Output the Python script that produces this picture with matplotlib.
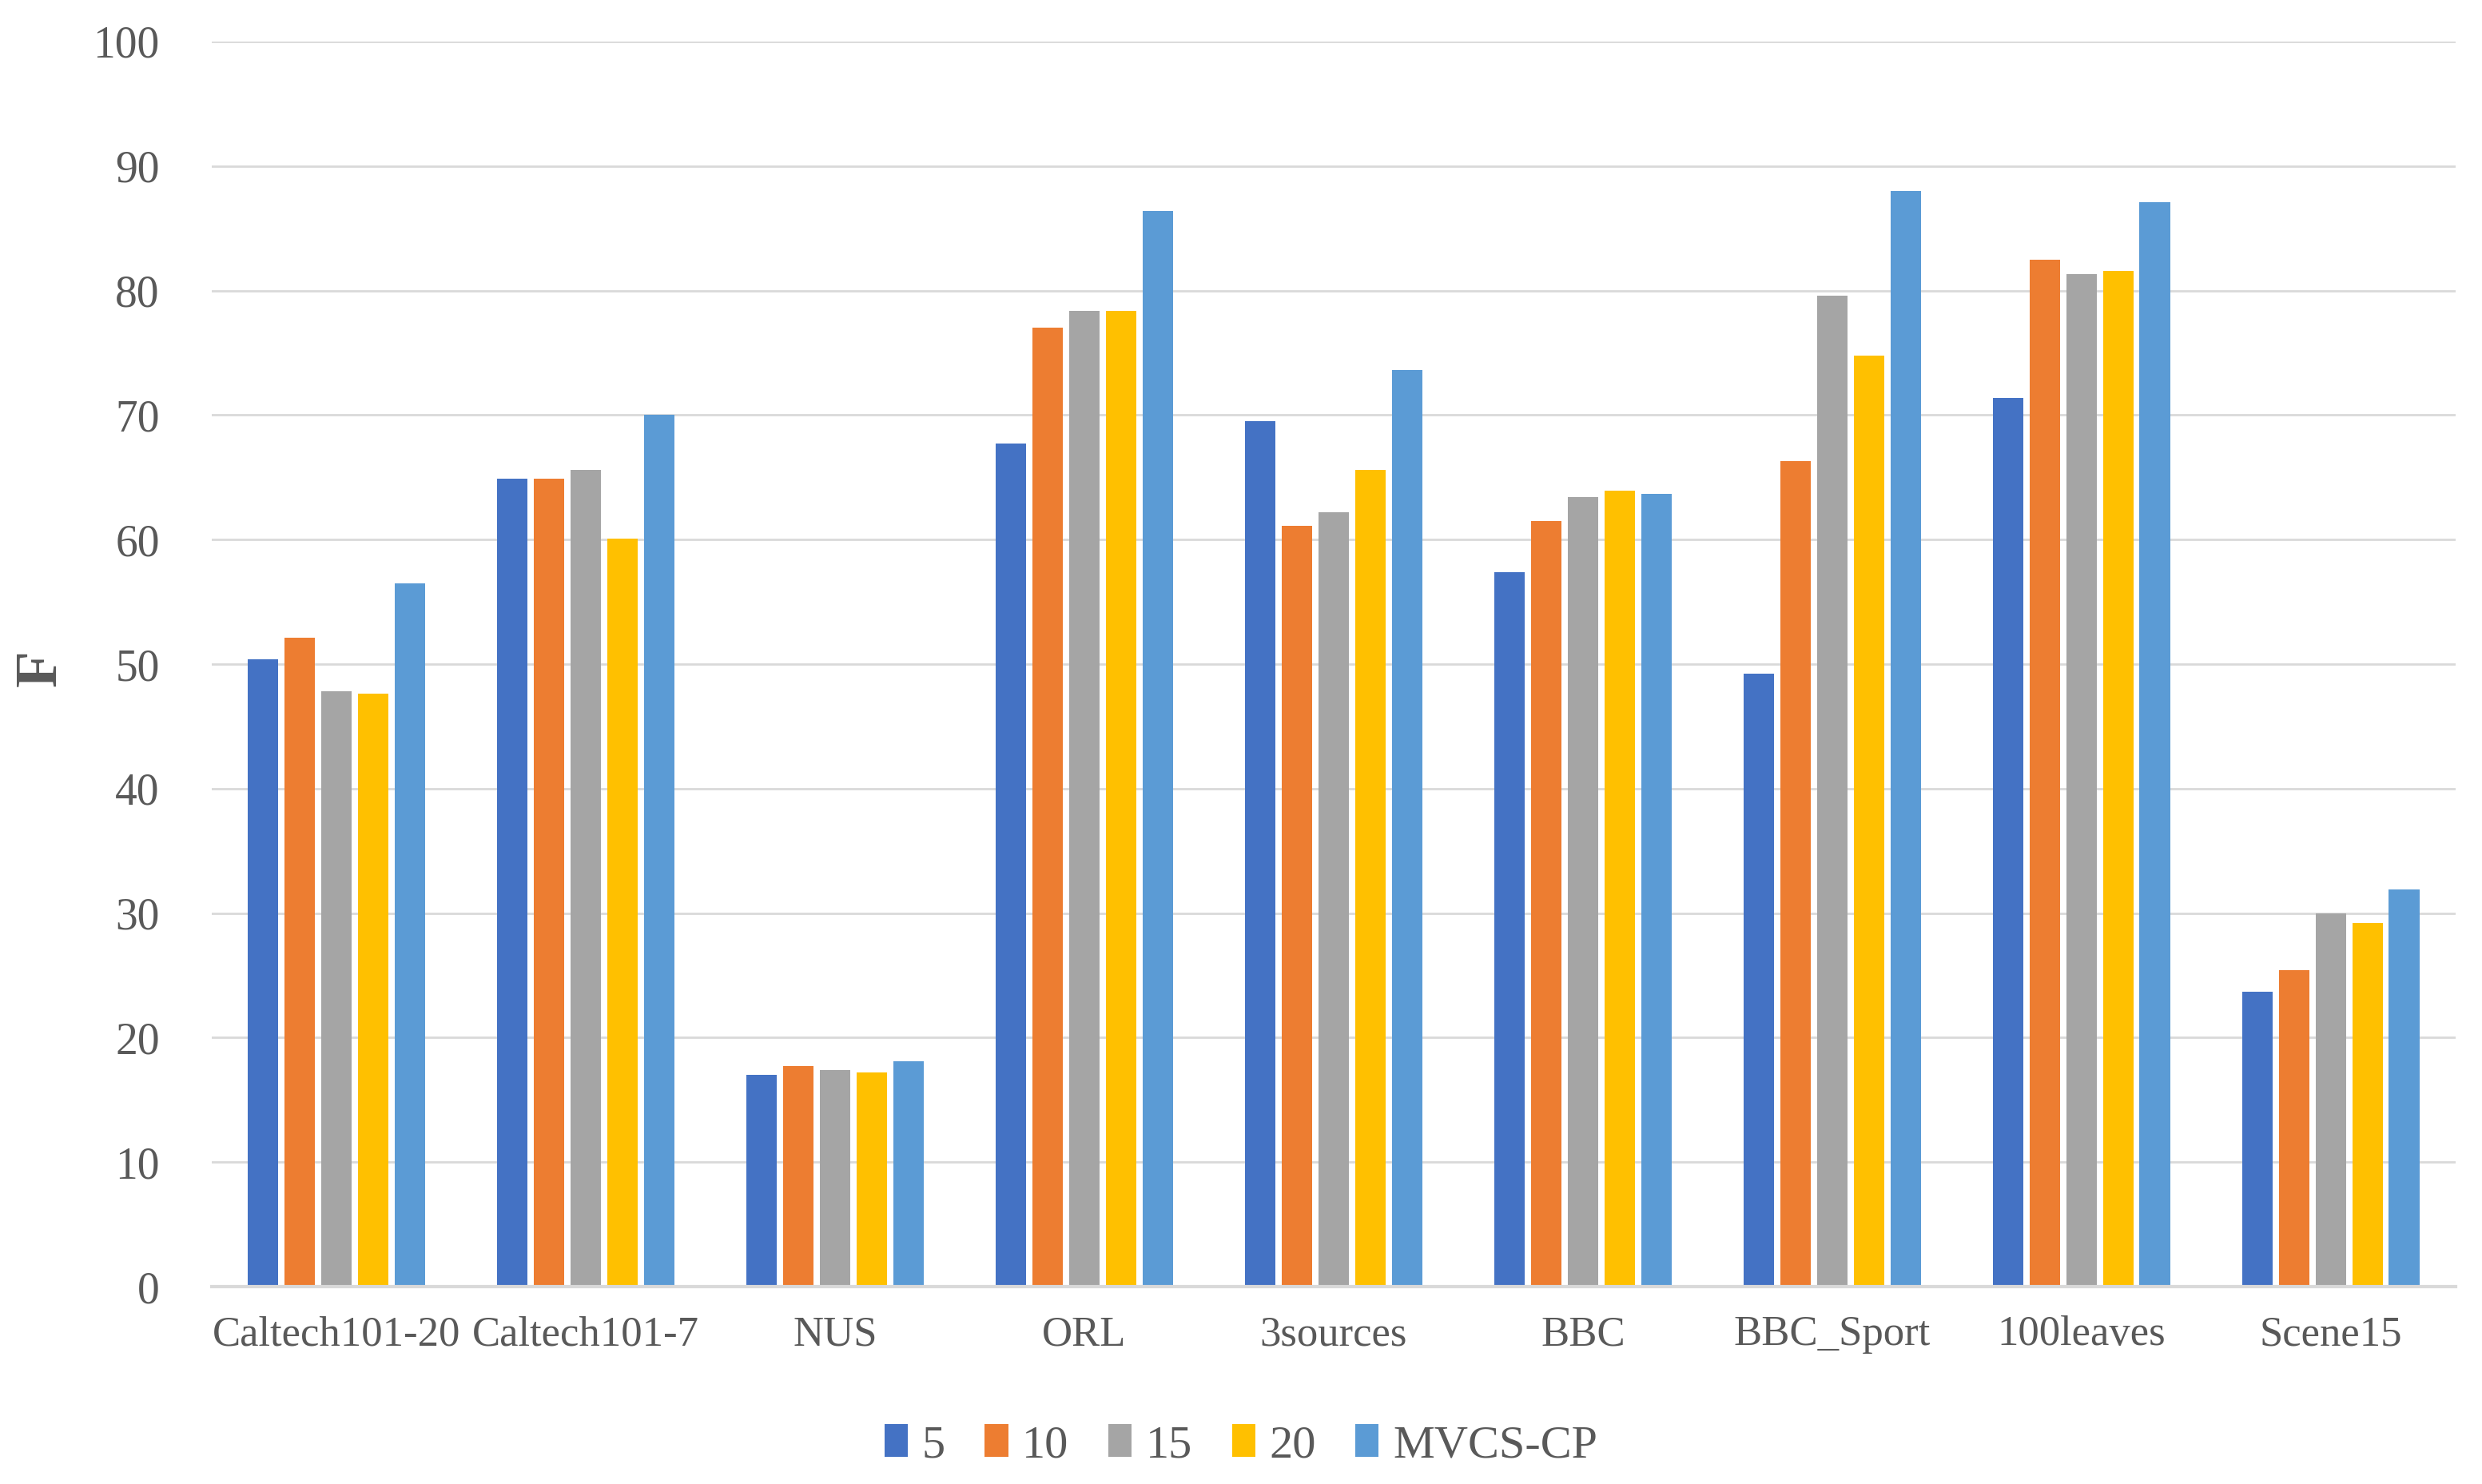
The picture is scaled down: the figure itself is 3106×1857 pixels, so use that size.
import numpy as np
import matplotlib.pyplot as plt

# F score per dataset, for each number of ... (5/10/15/20) and the full method
datasets = ['Caltech101-20', 'Caltech101-7', 'NUS', 'ORL', '3sources',
            'BBC', 'BBC_Sport', '100leaves', 'Scene15']
series_names = ['5', '10', '15', '20', 'MVCS-CP']
f_5 = [50.4, 64.9, 17.0, 67.7, 69.5, 57.4, 49.2, 71.4, 23.7]
f_10 = [52.1, 64.9, 17.7, 77.0, 61.1, 61.5, 66.3, 82.5, 25.4]
f_15 = [47.8, 65.6, 17.4, 78.4, 62.2, 63.4, 79.6, 81.3, 30.0]
f_20 = [47.6, 60.1, 17.2, 78.4, 65.6, 63.9, 74.8, 81.6, 29.2]
f_mvcs = [56.5, 70.0, 18.1, 86.4, 73.6, 63.7, 88.0, 87.1, 31.9]
yticks = [0, 10, 20, 30, 40, 50, 60, 70, 80, 90, 100]

colors = ['#4472C4', '#ED7D31', '#A5A5A5', '#FFC000', '#5B9BD5']

plt.rcParams['font.family'] = ['Liberation Serif', 'DejaVu Serif']

fig = plt.figure(figsize=(31.06, 18.57), dpi=100)
ax = fig.add_axes([0.0853, 0.133, 0.904, 0.839])

x = np.arange(len(datasets))
step = 0.147
width = 0.122
all_series = [f_5, f_10, f_15, f_20, f_mvcs]
for i, (vals, name) in enumerate(zip(all_series, series_names)):
    ax.bar(x + (i - 2) * step, vals, width, color=colors[i], label=name, zorder=3)

ax.set_xlim(-0.5, len(datasets) - 0.5)
ax.set_ylim(0, 100)
ax.set_yticks(yticks)
ax.set_xticks(x)
ax.set_xticklabels(datasets)
ax.grid(axis='y', color='#d9d9d9', linewidth=2, zorder=0)
for side in ['top', 'right', 'left']:
    ax.spines[side].set_visible(False)
ax.spines['bottom'].set_color('#d9d9d9')
ax.spines['bottom'].set_linewidth(3)
ax.spines['bottom'].set_zorder(4)
ax.tick_params(axis='y', length=0, pad=47, labelsize=40, labelcolor='#595959')
ax.tick_params(axis='x', length=0, pad=26, labelsize=38, labelcolor='#595959')

fig.text(52 / 3106, 0.55, 'F', rotation=90, ha='center', va='center',
         fontsize=54, fontweight='bold', color='#595959')

fig.legend(loc='center', bbox_to_anchor=(0.5, 0.026), ncol=5, frameon=False,
           fontsize=42, handlelength=0.5, handleheight=0.7, handletextpad=0.3,
           columnspacing=0.85, labelcolor='#595959')

fig.savefig('out.png', dpi=100)
